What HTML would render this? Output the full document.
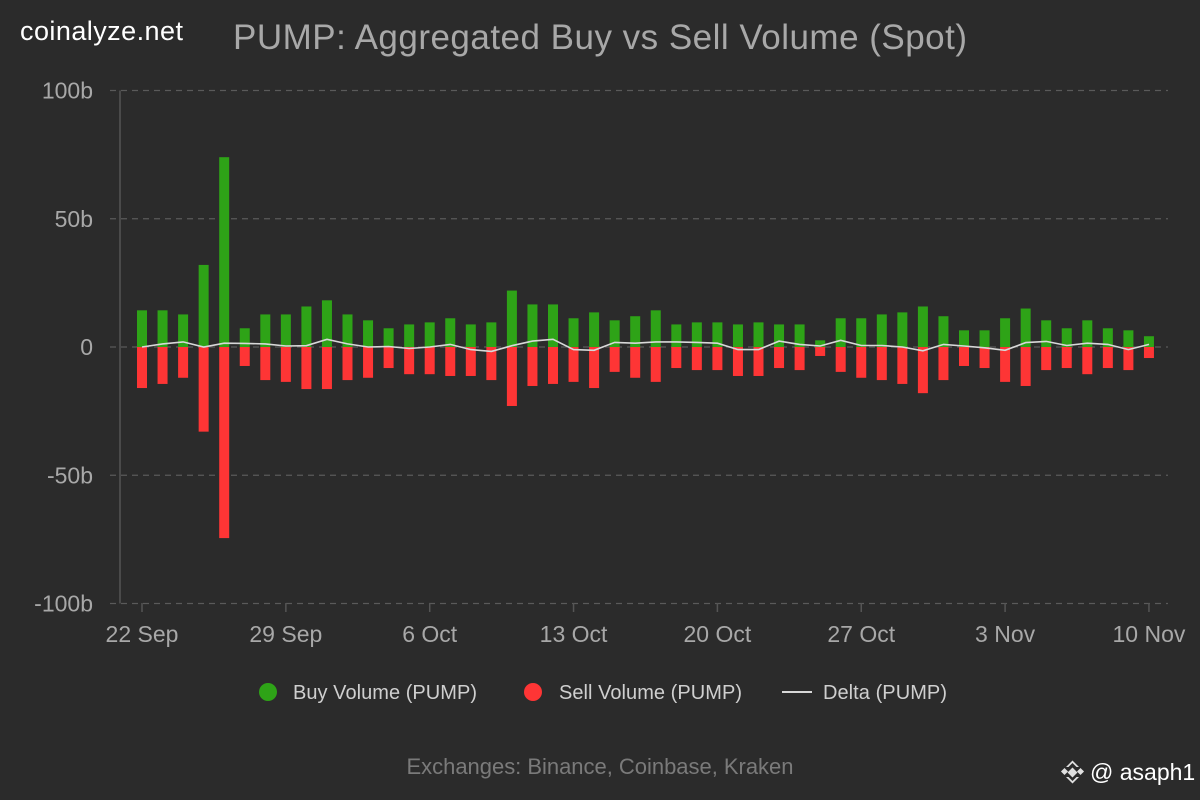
<!DOCTYPE html>
<html><head><meta charset="utf-8">
<style>
html,body{margin:0;padding:0;background:#2b2b2b;}
body{width:1200px;height:800px;overflow:hidden;font-family:"Liberation Sans",sans-serif;}
</style></head>
<body>
<svg id="chart" width="1200" height="800" xmlns="http://www.w3.org/2000/svg" style="display:block">
<rect x="0" y="0" width="1200" height="800" fill="#2b2b2b"/>
<text x="20" y="40" font-size="27" textLength="163" fill="#ffffff">coinalyze.net</text>
<text x="600" y="49" text-anchor="middle" font-size="35" textLength="734" fill="#a8a8a8">PUMP: Aggregated Buy vs Sell Volume (Spot)</text>
<g id="grid"></g>
<g id="yaxis"></g>
<g id="xaxis"></g>
<g id="bars"></g>
<g id="delta"></g>
<g>
  <g>
    <circle cx="268" cy="692" r="9" fill="#2ea317"/>
    <text x="293" y="699" font-size="20" textLength="184" fill="#cfcfcf">Buy Volume (PUMP)</text>
  </g>
  <g>
    <circle cx="533" cy="692" r="9" fill="#fe3535"/>
    <text x="559" y="699" font-size="20" textLength="183" fill="#cfcfcf">Sell Volume (PUMP)</text>
  </g>
  <g>
    <line x1="782" y1="692" x2="812" y2="692" stroke="#d8d8d8" stroke-width="2"/>
    <text x="823" y="699" font-size="20" textLength="124" fill="#cfcfcf">Delta (PUMP)</text>
  </g>
</g>
<text x="600" y="774" text-anchor="middle" font-size="22" textLength="387" fill="#7a7a7a">Exchanges: Binance, Coinbase, Kraken</text>
<g>
  <g fill="#e0e0e0">
    <rect x="1062" y="769" width="5" height="5" transform="rotate(45 1064.5 771.5)"/>
    <rect x="1078" y="769" width="5" height="5" transform="rotate(45 1080.5 771.5)"/>
    <rect x="1069" y="769" width="7" height="7" transform="rotate(45 1072.5 772.5)"/>
    <path d="M1066 767 L1072.5 760.5 L1079 767 L1076.5 767 L1072.5 763 L1068.5 767Z"/>
    <path d="M1066 777 L1072.5 783.5 L1079 777 L1076.5 777 L1072.5 781 L1068.5 777Z"/>
  </g>
  <text x="1090" y="780" font-size="23" fill="#ffffff">@ asaph1</text>
</g>
</svg>
<script>
const dates = ["22 Sep","29 Sep","6 Oct","13 Oct","20 Oct","27 Oct","3 Nov","10 Nov"];
const dateIdx = [0,7,14,21,28,35,42,49];
const yTicks = [100,50,0,-50,-100];
const yTickLabels = ["100b","50b","0","-50b","-100b"];
const buyVol = [14.3,14.3,12.7,32,74,7.3,12.7,12.7,15.8,18.2,12.7,10.4,7.3,8.8,9.6,11.2,8.8,9.6,22,16.6,16.6,11.2,13.5,10.4,12,14.3,8.8,9.6,9.6,8.8,9.6,8.8,8.8,2.6,11.2,11.2,12.7,13.5,15.8,12,6.5,6.5,11.2,15,10.4,7.3,10.4,7.3,6.5,4.2];
const sellVol = [16,14.4,12,33,74.5,7.4,12.9,13.6,16.4,16.4,12.9,12,8.2,10.6,10.6,11.3,11.3,12.9,23,15.2,14.4,13.6,16,9.7,12,13.6,8.2,9,9,11.3,11.3,8.2,9,3.5,9.7,12,12.9,14.4,18,12.9,7.4,8.2,13.6,15.2,9,8.2,10.6,8.2,9,4.3];
const deltaVol = [0,1.2,2,0,1.5,1.4,1.2,0.4,0.5,3,1.2,0,0.2,-0.6,0,1,-1,-1.7,0.5,2.3,3,-1,-1.3,1.8,1.5,2,2,1.8,1.5,-1,-1,2.3,1,0.4,2.6,0.6,0.6,0,-1.5,1,0.4,-0.3,-1.3,1.7,2.2,0.6,1.5,1,-1,1];

const NS="http://www.w3.org/2000/svg";
const x0=142, dx=20.55, yZero=347, pxPerB=2.565;
function xs(i){return x0+i*dx;}
function ys(v){return yZero - v*pxPerB;}
function mk(tag,attrs,parent){const e=document.createElementNS(NS,tag);for(const k in attrs)e.setAttribute(k,attrs[k]);parent.appendChild(e);return e;}
const grid=document.getElementById('grid'), yaxis=document.getElementById('yaxis'), xaxis=document.getElementById('xaxis'), bars=document.getElementById('bars'), delta=document.getElementById('delta');
yTicks.forEach((v,i)=>{
  const y=ys(v);
  const g=mk('line',{x1:110,x2:1168,y1:y,y2:y,stroke:'#5a5a5a','stroke-width':1.3,'stroke-dasharray':'6,5'},grid);
  
  
  const t=mk('text',{x:93,y:y+8,'text-anchor':'end','font-size':23,fill:'#a8a8a8'},yaxis);
  t.textContent=yTickLabels[i];
  
  
});
const ax=mk('line',{x1:120,x2:120,y1:ys(100),y2:ys(-100),stroke:'#555','stroke-width':1.5},yaxis);


dates.forEach((d,i)=>{
  const x=xs(dateIdx[i]);
  const tk=mk('line',{x1:x,x2:x,y1:603,y2:612,stroke:'#555','stroke-width':1.5},xaxis);
  
  
  const t=mk('text',{x:x,y:642,'text-anchor':'middle','font-size':23,fill:'#a8a8a8'},xaxis);
  t.textContent=d;
  
  
});
buyVol.forEach((v,i)=>{
  const b=mk('rect',{x:xs(i)-5,y:ys(v),width:10,height:yZero-ys(v),fill:'#2ea317'},bars);
  
  
});
sellVol.forEach((v,i)=>{
  const b=mk('rect',{x:xs(i)-5,y:yZero,width:10,height:ys(-v)-yZero,fill:'#fe3535'},bars);
  
  
});
const pts=deltaVol.map((v,i)=>xs(i).toFixed(1)+','+ys(v).toFixed(1)).join(' ');
const pl=mk('polyline',{points:pts,fill:'none',stroke:'#d8d8d8','stroke-width':1.6},delta);


</script>
</body></html>
